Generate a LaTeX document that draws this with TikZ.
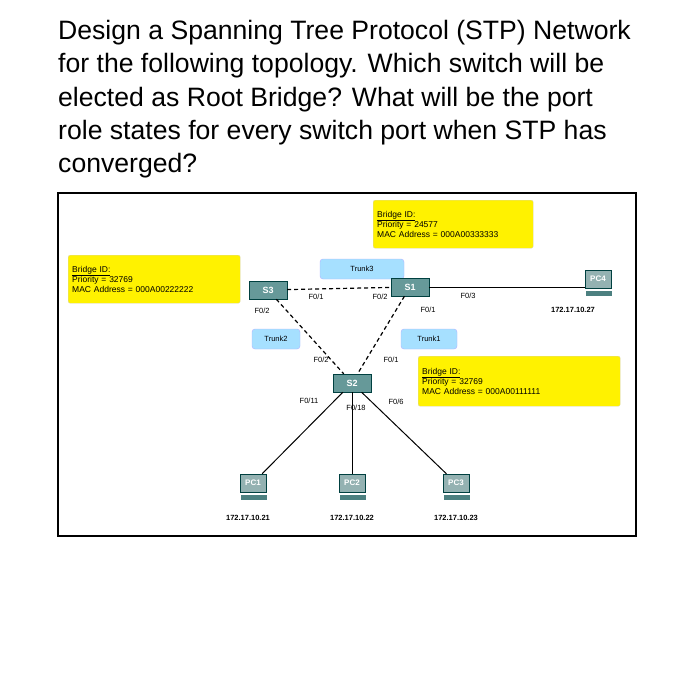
\documentclass[tikz,border=0pt]{standalone}
\usepackage{fontspec}
\setmainfont{Liberation Sans}
\begin{document}
\begin{tikzpicture}[x=1pt,y=-1pt,
  ybox/.style={draw=yellow!60!black!40,fill=yellow,rounded corners=2pt,align=left,font=\fontsize{8.5}{10}\selectfont,inner sep=4pt,anchor=north west},
  tbox/.style={draw=blue!30,fill=blue!35!cyan!35,rounded corners=3pt,font=\fontsize{7.5}{9}\selectfont,minimum height=20,anchor=center},
  sw/.style={draw=teal!50!black,fill=teal!50!gray!80,minimum width=38,minimum height=18,text=white,font=\bfseries\fontsize{9}{9}\selectfont,inner sep=1pt},
  pc/.style={draw=teal!50!black,fill=teal!40!gray!60,minimum width=26,minimum height=18,text=white,font=\bfseries\fontsize{8}{8}\selectfont,inner sep=1pt},
  port/.style={font=\fontsize{7.5}{8}\selectfont,inner sep=1pt},
  ip/.style={font=\bfseries\fontsize{7.5}{8}\selectfont,inner sep=1pt},
  trunk/.style={line width=1.2pt,dash pattern=on 4pt off 3pt},
  link/.style={line width=1pt}]
\useasboundingbox (0,0) rectangle (700,677);
\fill[white] (0,0) rectangle (700,677);
\node[anchor=north west,align=left,font=\fontsize{26.6}{33.3}\selectfont,inner sep=0] (title) at (58,20)
 {Design a Spanning Tree Protocol (STP) Network\\for the following topology. Which switch will be\\elected as Root Bridge? What will be the port\\role states for every switch port when STP has\\converged?};
\draw[line width=1.5pt,fill=white] (58,193) rectangle (636,536);
\node[ybox,text width=152,minimum height=48] (b1) at (373,200) {\underline{Bridge ID:}\\Priority = 24577\\MAC Address = 000A00333333};
\node[ybox,text width=164,minimum height=48] (b3) at (68,255) {\underline{Bridge ID:}\\Priority = 32769\\MAC Address = 000A00222222};
\node[ybox,text width=194,minimum height=50] (b2) at (418,356) {\underline{Bridge ID:}\\Priority = 32769\\MAC Address = 000A00111111};
\node[tbox,minimum width=84] (t3) at (362,269) {Trunk3};
\node[tbox,minimum width=48] (t2) at (276,339) {Trunk2};
\node[tbox,minimum width=56] (t1) at (429,339) {Trunk1};
\node[pc] (pc4) at (598,279) {PC4};
\node[pc] (pc1) at (253,483) {PC1};
\node[pc] (pc2) at (352,483) {PC2};
\node[pc] (pc3) at (456,483) {PC3};
\foreach \p in {pc1,pc2,pc3,pc4}{
  \fill[teal!40!gray] ([xshift=-12,yshift=-3]\p.south) rectangle ([xshift=14,yshift=-8]\p.south);}
\node[sw] (s3) at (268,290) {S3};
\node[sw] (s1) at (410,287) {S1};
\node[sw] (s2) at (352,383) {S2};
\draw[trunk] (s3) -- (s1);
\draw[trunk] (s3) -- (s2);
\draw[trunk] (s1) -- (s2);
\draw[link] (s1) -- (pc4.west|-s1);
\draw[link] (s2) -- (pc1);
\draw[link] (s2) -- (pc2);
\draw[link] (s2) -- (pc3);
\node[port] (p1) at (316,297) {F0/1};
\node[port] (p2) at (262,311) {F0/2};
\node[port] (p3) at (380,297) {F0/2};
\node[port] (p4) at (468,296) {F0/3};
\node[port] (p5) at (428,310) {F0/1};
\node[port] (p6) at (321,360) {F0/2};
\node[port] (p7) at (391,360) {F0/1};
\node[port] (p8) at (309,401) {F0/11};
\node[port] (p9) at (356,408) {F0/18};
\node[port] (p10) at (396,402) {F0/6};
\node[ip] (i4) at (573,310) {172.17.10.27};
\node[ip] (i1) at (248,518) {172.17.10.21};
\node[ip] (i2) at (352,518) {172.17.10.22};
\node[ip] (i3) at (456,518) {172.17.10.23};
\end{tikzpicture}
\end{document}
